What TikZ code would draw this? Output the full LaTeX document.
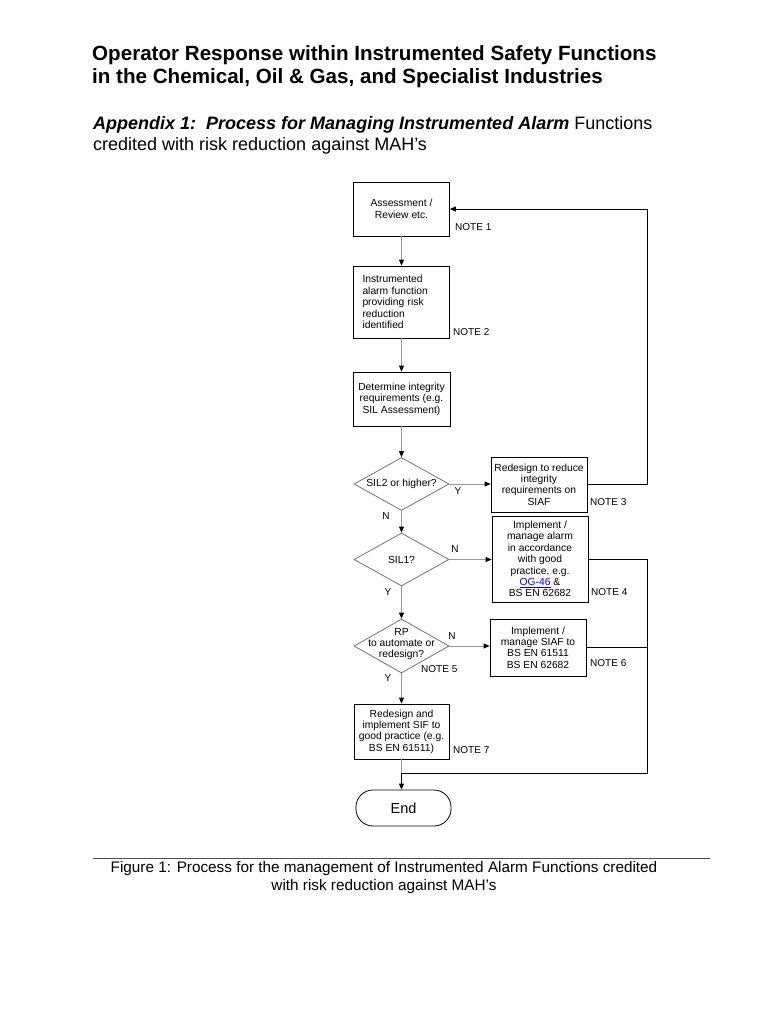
\documentclass[tikz,border=0pt]{standalone}
\usepackage{fontspec}
\setmainfont{Liberation Sans}
\usetikzlibrary{arrows.meta,shapes.geometric}
\tikzset{
  box/.style={draw=black, line width=0.8pt, inner sep=0pt, align=center,
    font=\fontsize{10.3}{11.4}\selectfont},
  dia/.style={shape=diamond, draw=black!55, line width=0.8pt, inner sep=0pt},
  flow/.style={draw=black!40, line width=0.8pt, -{Triangle[length=6pt,width=5pt,black]}},
  blk/.style={draw=black, line width=0.8pt},
  blkarrow/.style={blk, -{Triangle[length=6pt,width=5pt,black]}},
  note/.style={anchor=west, inner sep=0pt, font=\fontsize{10}{12}\selectfont},
  yn/.style={inner sep=0pt, font=\fontsize{10}{12}\selectfont},
  diatext/.style={align=center, inner sep=0pt, font=\fontsize{10.3}{11.4}\selectfont}
}
\begin{document}
\begin{tikzpicture}[x=1pt,y=-1pt]
\useasboundingbox[fill=white] (0,0) rectangle (768,1024);

% titles
\node[anchor=west, inner sep=0pt, align=left, font=\fontsize{20.6}{23}\selectfont\bfseries] (t1) at (92,67)
  {Operator Response within Instrumented Safety Functions\\in the Chemical, Oil \& Gas, and Specialist Industries};
\node[anchor=west, inner sep=0pt, align=left, font=\fontsize{18}{21}\selectfont] (t2) at (93,135)
  {\textbf{\textit{Appendix 1:\ \ Process for Managing Instrumented Alarm}} Functions\\credited with risk reduction against MAH's};

% boxes
\node[box, minimum width=96pt, minimum height=54pt] (b1) at (401.5,209) {Assessment /\\Review etc.};
\node[box, minimum width=96pt, minimum height=72pt, text width=78pt, align=left] (b2) at (401.5,302)
  {Instrumented\\alarm function\\providing risk\\reduction\\identified};
\node[box, minimum width=97pt, minimum height=54pt] (b3) at (401.5,399) {Determine integrity\\requirements (e.g.\\SIL Assessment)};
\node[dia, minimum width=95pt, minimum height=53pt] (d1) at (401.5,484) {};
\node[diatext] (d1t) at (d1) {SIL2 or higher?};
\node[box, minimum width=96pt, minimum height=55pt] (b4) at (539,484.5) {Redesign to reduce\\integrity\\requirements on\\SIAF};
\node[dia, minimum width=95pt, minimum height=53pt] (d2) at (401.5,559.5) {};
\node[diatext] (d2t) at (d2) {SIL1?};
\node[box, minimum width=96pt, minimum height=86pt] (b5) at (540,559)
  {Implement /\\manage alarm\\in accordance\\with good\\practice, e.g.\\\textcolor{blue}{\underline{OG-46}} \&\\BS EN 62682};
\node[dia, minimum width=95pt, minimum height=54pt] (d3) at (401.5,646) {};
\node[diatext] (d3t) at (401.5,644) {RP\\to automate or\\redesign?};
\node[box, minimum width=96pt, minimum height=57pt] (b6) at (538,647.5) {Implement /\\manage SIAF to\\BS EN 61511\\BS EN 62682};
\node[box, minimum width=95pt, minimum height=55pt] (b7) at (401.5,731.5) {Redesign and\\implement SIF to\\good practice (e.g.\\BS EN 61511)};
\node[draw=black, line width=0.8pt, rounded corners=17pt, minimum width=95pt, minimum height=36pt, inner sep=0pt,
  font=\fontsize{14.5}{16}\selectfont] (end) at (403.5,808) {End};

% notes
\node[note] (n1) at (455,227) {NOTE 1};
\node[note] (n2) at (453,332) {NOTE 2};
\node[note] (n3) at (590,502) {NOTE 3};
\node[note] (n4) at (591,592) {NOTE 4};
\node[note] (n5) at (421,669) {NOTE 5};
\node[note] (n6) at (590,663) {NOTE 6};
\node[note] (n7) at (453,750) {NOTE 7};

% Y/N labels
\node[yn] (l1) at (458,491) {Y};
\node[yn] (l2) at (386,516) {N};
\node[yn] (l3) at (455,549) {N};
\node[yn] (l4) at (388,592) {Y};
\node[yn] (l5) at (452,636) {N};
\node[yn] (l6) at (388,678) {Y};

% main flow
\draw[flow] (b1.south) -- (b2.north);
\draw[flow] (b2.south) -- (b3.north);
\draw[flow] (b3.south) -- (d1.north);
\draw[flow] (d1.south) -- (d2.north);
\draw[flow] (d2.south) -- (d3.north);
\draw[flow] (d3.south) -- (b7.north);
\draw[flow] (d1.east) -- (d1.east -| b4.west);
\draw[flow] (d2.east) -- (d2.east -| b5.west);
\draw[flow] (d3.east) -- (d3.east -| b6.west);

% feedback and merge lines
\coordinate (rt) at (647,209);
\coordinate (rb) at (647,773);
\coordinate (jn) at (401.5,773);
\draw[draw=black!40, line width=0.8pt] (b7.south) -- (jn);
\draw[blkarrow] (b4.east) -| (rt) -- (b1.east);
\draw[blk] (b5.east) -| (rb) -- (jn);
\draw[blk] (b6.east) -- (b6.east -| rb);
\draw[blkarrow] (jn) -- (jn |- end.north);

% caption
\draw[draw=black!70, line width=1pt] (93,858) -- (710,858);
\node[inner sep=0pt, align=center, font=\fontsize{15.3}{18}\selectfont] (cap) at (384,878)
  {Figure 1: Process for the management of Instrumented Alarm Functions credited\\with risk reduction against MAH's};
\end{tikzpicture}
\end{document}
